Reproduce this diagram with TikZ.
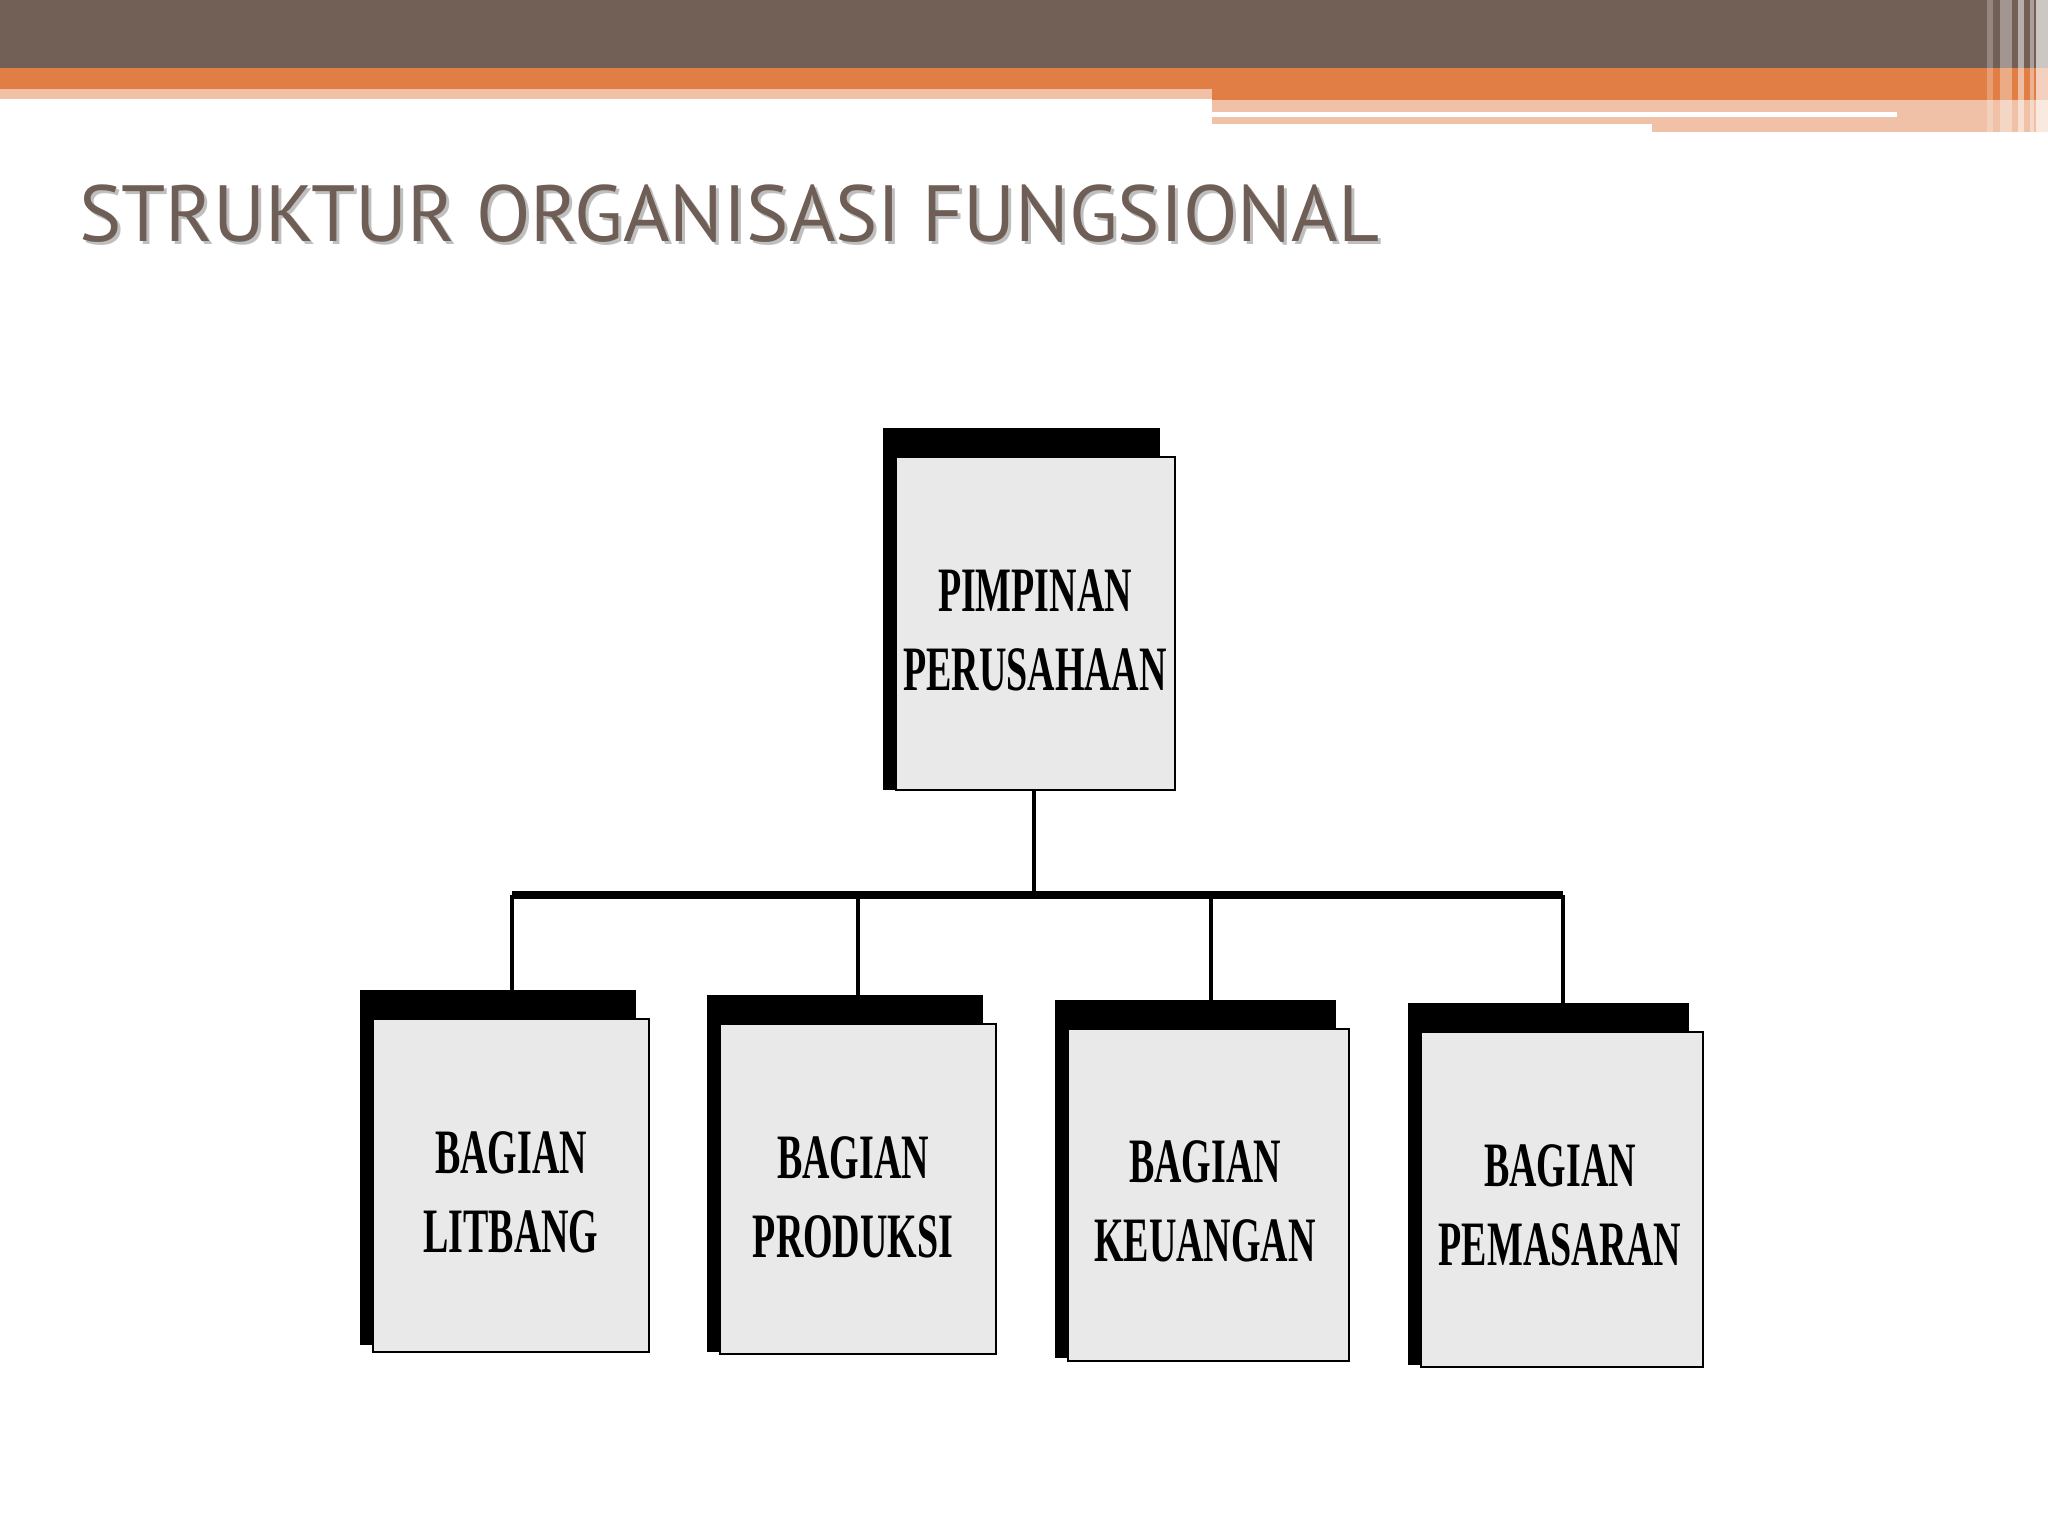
\documentclass[tikz,border=0pt]{standalone}
\usepackage{fontspec}
\usepackage{graphicx}
\setmainfont{Liberation Serif}
\newfontfamily\titlefont{PT Sans}
\definecolor{brownbar}{HTML}{725F55}
\definecolor{orangebar}{HTML}{E07E45}
\definecolor{peach}{HTML}{F0C1A6}
\definecolor{titlecol}{HTML}{6E5E55}
\definecolor{boxfill}{HTML}{E9E9E9}
\newcommand{\narrow}[1]{\scalebox{0.6}[1]{\begin{tabular}{@{}c@{}}#1\end{tabular}}}
\begin{document}
\begin{tikzpicture}[x=0.015cm,y=-0.015cm,
  shadowbox/.style={fill=black},
  facebox/.style={fill=boxfill,draw=black,line width=1.2pt},
  lbl/.style={font=\bfseries\fontsize{27}{34}\selectfont,align=center},
  ttl/.style={anchor=base west,inner sep=0pt,font=\titlefont\fontsize{34}{40}\selectfont},
  conn/.style={line width=1.6pt}]
\useasboundingbox (0,0) rectangle (2048,1536);
% header
\fill[brownbar] (0,0) rectangle (2048,68);
\fill[orangebar] (0,68) rectangle (1212,89);
\fill[peach] (0,89) rectangle (1212,99);
\fill[orangebar] (1212,68) rectangle (2048,100);
\fill[peach] (1212,100) rectangle (2048,132);
\fill[white] (1212,112) rectangle (1897,117);
\fill[white] (1212,124) rectangle (1652,132);
\fill[white,opacity=0.25] (1987,0) rectangle (1993,138);
\fill[white,opacity=0.35] (2000,0) rectangle (2012,138);
\fill[white,opacity=0.5] (2018,0) rectangle (2024,138);
\fill[white,opacity=0.4] (2030,0) rectangle (2034,138);
\fill[white,opacity=0.65] (2036,0) rectangle (2048,138);
% title
\node[ttl,text=black!25] at (82,245) {STRUKTUR ORGANISASI FUNGSIONAL};
\node[ttl,text=titlecol] (title) at (79,242) {STRUKTUR ORGANISASI FUNGSIONAL};
% boxes
\fill[shadowbox] (883,428) rectangle (1160,790);
\draw[facebox] (896,457) rectangle (1175,790);
\node[lbl] (top) at (1035,635) {\narrow{PIMPINAN\\PERUSAHAAN}};
\coordinate (topb) at (1034,790);
\fill[shadowbox] (360,990) rectangle (636,1345);
\draw[facebox] (373,1019) rectangle (649,1352);
\node[lbl] (b1) at (511,1197) {\narrow{BAGIAN\\LITBANG}};
\fill[shadowbox] (707,995) rectangle (983,1352);
\draw[facebox] (720,1024) rectangle (996,1354);
\node[lbl] (b2) at (853,1202) {\narrow{BAGIAN\\PRODUKSI}};
\fill[shadowbox] (1055,1000) rectangle (1336,1358);
\draw[facebox] (1068,1029) rectangle (1349,1361);
\node[lbl] (b3) at (1205,1206) {\narrow{BAGIAN\\KEUANGAN}};
\fill[shadowbox] (1408,1003) rectangle (1689,1365);
\draw[facebox] (1421,1032) rectangle (1703,1367);
\node[lbl] (b4) at (1560,1210) {\narrow{BAGIAN\\PEMASARAN}};
% connectors
\coordinate (j) at (1034,895);
\coordinate (l) at (512,895);
\coordinate (r) at (1563,895);
\draw[conn] (topb) -- (j);
\draw[line width=3.5pt] (l) -- (r);
\draw[conn] (l) -- (512,992);
\draw[conn] (858,895) -- (858,997);
\draw[conn] (1211,895) -- (1211,1002);
\draw[conn] (r) -- (1563,1005);
\end{tikzpicture}
\end{document}
